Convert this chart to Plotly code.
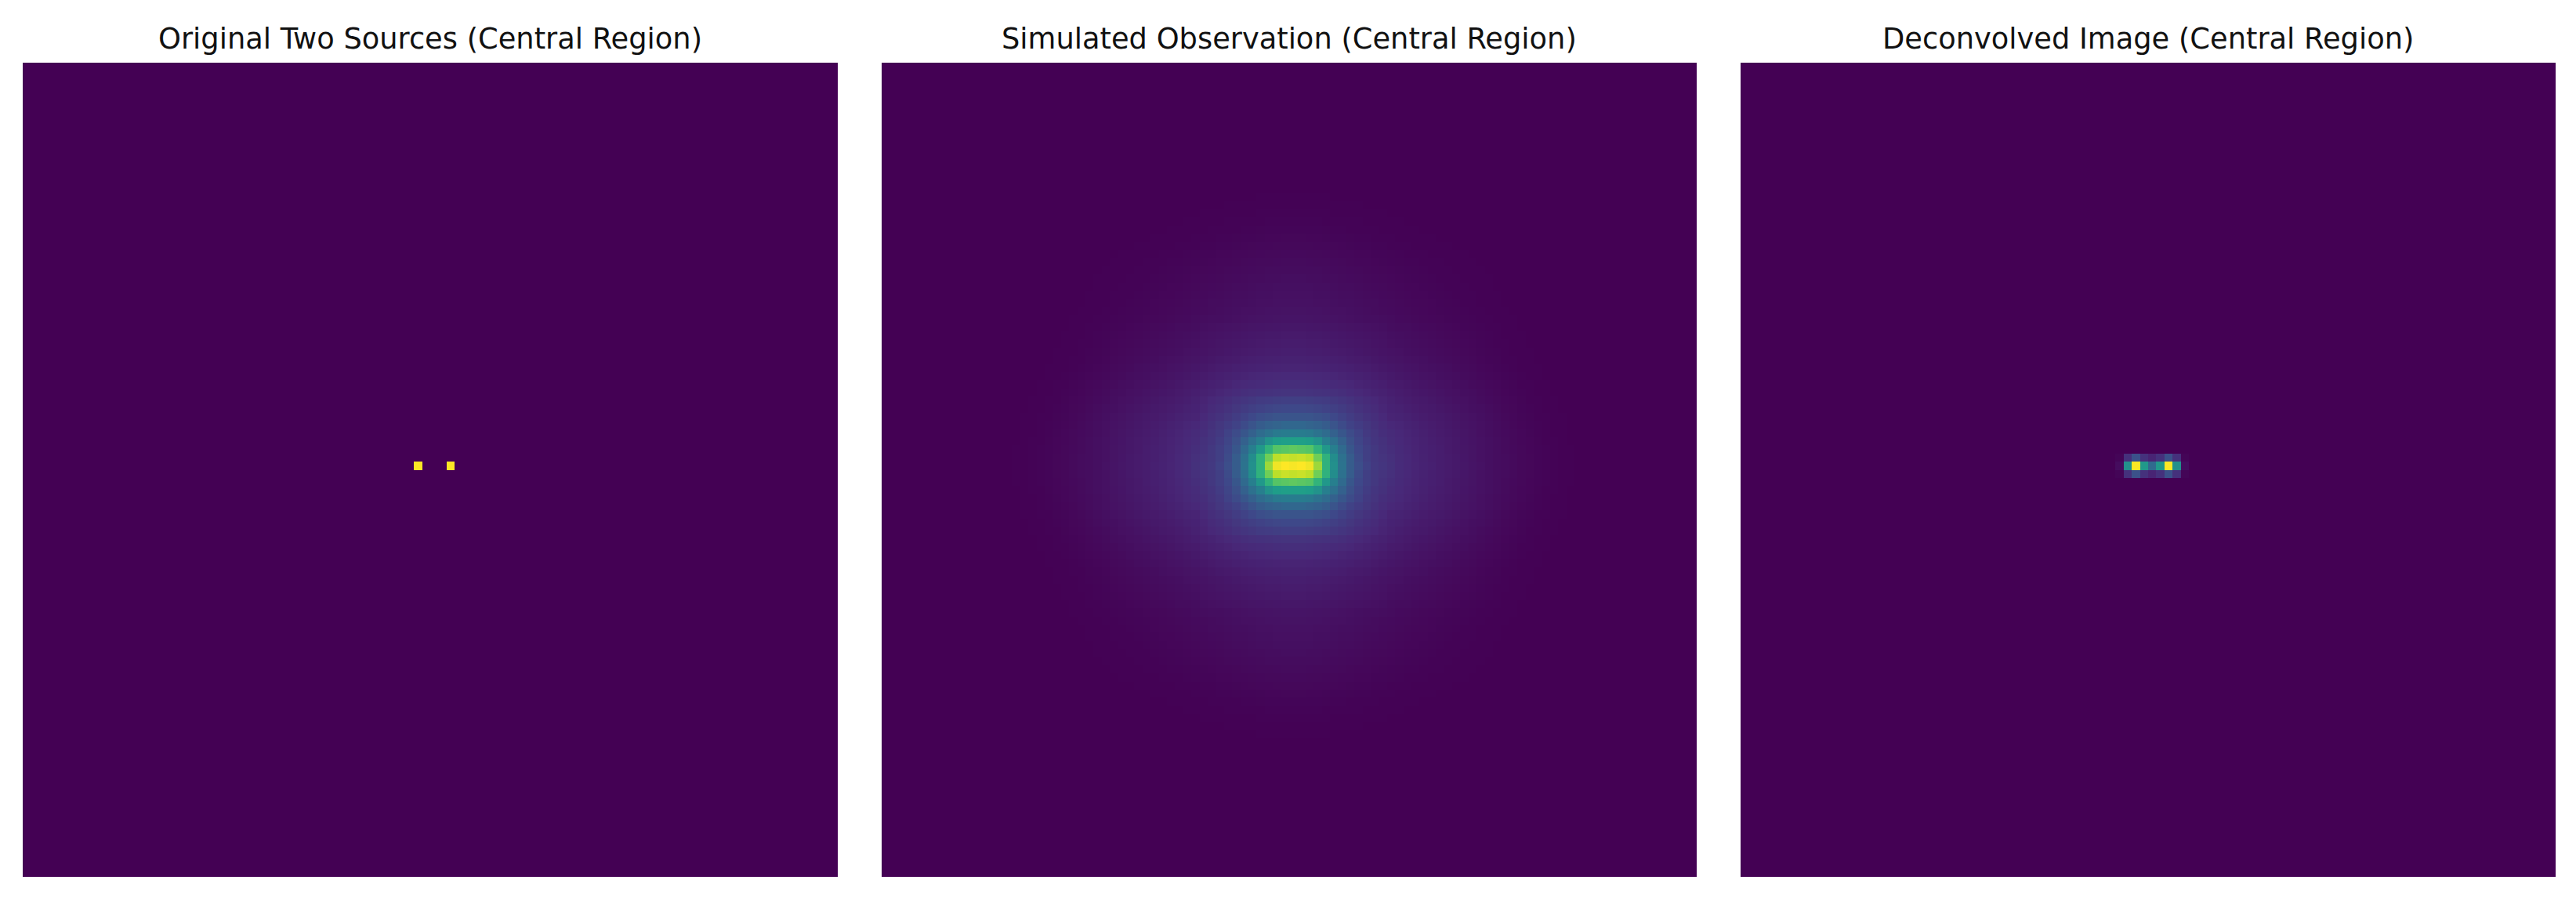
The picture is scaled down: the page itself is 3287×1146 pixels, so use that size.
import plotly.graph_objects as go

# The page body adds an 8 px margin around the figure
PAGE_MARGIN = 8
WIDTH = 3287 - PAGE_MARGIN
HEIGHT = 1146 - PAGE_MARGIN
GRID = 100

TITLES = [
    "Original Two Sources (Central Region)",
    "Simulated Observation (Central Region)",
    "Deconvolved Image (Central Region)",
]

# Original image: two single bright pixels
SOURCE_ROW = 49
SOURCE_COLS = [48, 52]

# Simulated observation, per-mille of the peak.
# One quadrant: row = distance from centre row, col = distance from centre col.
OBS_CENTER_ROW = 49
OBS_CENTER_COL = 50
OBS_QUADRANT = [
    [990, 1000, 980, 850, 640, 500, 380, 290, 240, 200, 170, 155, 140, 122, 112, 103, 95, 88, 81, 75, 69, 62, 55, 48, 41, 35, 30, 25, 20, 16, 12, 9, 6, 4, 2],
    [910, 920, 900, 780, 640, 490, 370, 290, 230, 190, 165, 150, 138, 120, 110, 101, 93, 86, 80, 74, 68, 61, 54, 47, 41, 35, 30, 25, 20, 16, 12, 9, 6, 4, 2],
    [750, 740, 730, 650, 530, 430, 340, 270, 220, 190, 165, 145, 132, 118, 108, 100, 92, 85, 79, 72, 66, 60, 53, 46, 40, 34, 29, 24, 19, 15, 11, 8, 5, 3, 2],
    [560, 560, 550, 510, 430, 370, 310, 250, 210, 180, 155, 140, 125, 115, 106, 98, 90, 83, 77, 71, 65, 58, 52, 45, 39, 33, 28, 23, 18, 14, 10, 7, 5, 3, 1],
    [420, 420, 410, 380, 350, 310, 270, 230, 200, 170, 150, 130, 120, 110, 102, 95, 87, 81, 75, 69, 63, 57, 50, 44, 38, 32, 27, 22, 17, 13, 9, 7, 4, 2, 1],
    [330, 330, 320, 310, 290, 260, 230, 200, 180, 160, 140, 125, 110, 104, 97, 90, 83, 77, 71, 65, 60, 54, 48, 42, 36, 30, 25, 20, 15, 11, 8, 6, 4, 2, 1],
    [260, 260, 260, 250, 240, 220, 200, 180, 160, 145, 130, 115, 100, 96, 90, 84, 78, 72, 67, 62, 56, 50, 45, 39, 33, 28, 23, 18, 13, 10, 7, 5, 3, 2],
    [220, 220, 215, 210, 200, 190, 175, 160, 145, 130, 120, 105, 95, 90, 84, 78, 72, 67, 62, 57, 52, 46, 41, 36, 30, 25, 20, 16, 12, 9, 6, 4, 2, 1],
    [190, 190, 185, 180, 175, 165, 155, 145, 130, 120, 110, 100, 90, 84, 78, 72, 67, 62, 57, 52, 47, 42, 37, 32, 27, 22, 18, 14, 10, 7, 5, 3, 2, 1],
    [150, 150, 148, 145, 142, 137, 130, 122, 113, 105, 97, 90, 82, 76, 71, 66, 61, 56, 51, 47, 42, 38, 33, 28, 24, 19, 15, 12, 8, 6, 4, 2, 1],
    [130, 130, 128, 126, 122, 118, 113, 107, 100, 94, 88, 82, 75, 70, 65, 60, 55, 50, 46, 42, 38, 34, 29, 25, 21, 17, 13, 10, 7, 5, 3, 2, 1],
    [115, 115, 113, 111, 108, 104, 100, 95, 90, 85, 80, 74, 68, 63, 58, 54, 49, 45, 41, 37, 33, 29, 25, 21, 18, 14, 11, 8, 6, 4, 2, 1, 1],
    [100, 100, 98, 97, 95, 92, 89, 85, 81, 76, 71, 66, 61, 56, 52, 48, 44, 40, 36, 33, 29, 25, 22, 18, 15, 12, 9, 7, 4, 3, 2, 1],
    [90, 90, 88, 87, 85, 82, 79, 75, 71, 67, 63, 58, 54, 50, 46, 42, 39, 35, 32, 28, 25, 22, 19, 15, 12, 10, 7, 5, 3, 2, 1],
    [82, 82, 80, 79, 77, 74, 71, 68, 64, 60, 57, 52, 48, 45, 41, 38, 35, 31, 28, 25, 22, 19, 16, 13, 10, 8, 6, 4, 3, 2, 1],
    [77, 77, 75, 74, 72, 69, 66, 63, 59, 56, 52, 48, 44, 41, 38, 35, 32, 28, 26, 23, 20, 17, 14, 11, 9, 7, 5, 4, 3, 1, 1],
    [71, 71, 69, 68, 66, 64, 61, 58, 55, 51, 48, 45, 41, 38, 35, 32, 29, 26, 23, 20, 18, 15, 13, 10, 8, 6, 4, 3, 2, 1],
    [63, 63, 61, 60, 58, 56, 53, 50, 48, 45, 42, 39, 35, 32, 30, 27, 24, 22, 19, 17, 14, 12, 10, 8, 6, 5, 3, 2, 1, 1],
    [55, 55, 53, 52, 50, 48, 46, 44, 41, 38, 36, 33, 30, 27, 25, 22, 20, 18, 16, 13, 11, 10, 8, 6, 5, 3, 2, 2, 1],
    [50, 50, 49, 48, 46, 44, 42, 40, 37, 35, 32, 29, 27, 24, 22, 20, 18, 15, 13, 12, 10, 8, 7, 5, 4, 3, 2, 1, 1],
    [46, 46, 45, 44, 42, 40, 38, 36, 34, 32, 30, 27, 25, 22, 20, 18, 16, 14, 12, 10, 9, 7, 6, 4, 3, 2, 1, 1],
    [43, 43, 42, 41, 39, 37, 35, 33, 31, 29, 27, 24, 22, 19, 17, 15, 14, 12, 10, 9, 7, 6, 5, 3, 2, 2, 1, 1],
    [40, 40, 39, 38, 36, 34, 32, 30, 28, 26, 24, 22, 20, 18, 15, 14, 12, 10, 9, 7, 6, 5, 4, 3, 2, 1, 1],
    [36, 36, 35, 34, 32, 31, 29, 27, 25, 23, 21, 19, 17, 15, 13, 12, 10, 9, 7, 6, 5, 4, 3, 2, 2, 1, 1],
    [32, 32, 31, 30, 29, 27, 26, 24, 22, 20, 18, 16, 15, 13, 11, 10, 8, 7, 6, 5, 4, 3, 2, 2, 1, 1],
    [28, 28, 27, 26, 25, 24, 22, 20, 18, 17, 15, 13, 12, 10, 9, 8, 7, 6, 5, 4, 3, 3, 2, 1, 1, 1],
    [24, 24, 23, 22, 21, 20, 18, 17, 15, 14, 12, 11, 10, 8, 7, 6, 5, 4, 3, 3, 2, 2, 1, 1, 1],
    [20, 20, 19, 18, 17, 16, 15, 13, 12, 11, 9, 8, 7, 6, 5, 4, 3, 3, 2, 2, 1, 1, 1],
    [16, 16, 15, 14, 13, 12, 11, 10, 9, 8, 7, 6, 5, 4, 3, 3, 2, 2, 1, 1, 1],
    [12, 12, 12, 11, 10, 9, 8, 7, 6, 5, 5, 4, 3, 3, 2, 2, 1, 1, 1],
    [9, 9, 9, 8, 7, 7, 6, 5, 5, 4, 3, 3, 2, 2, 1, 1, 1],
    [6, 6, 6, 5, 5, 4, 4, 3, 3, 3, 2, 2, 1, 1, 1],
    [4, 4, 4, 3, 3, 3, 2, 2, 2, 1, 1, 1],
    [2, 2, 2, 2, 2, 1, 1, 1, 1],
    [1, 1, 1, 1, 1],
]

# Deconvolved image, fraction of the peak, around the two recovered sources
DECON_FIRST_ROW = 48
DECON_FIRST_COL = 46
DECON_PATCH = [
    [0.01, 0.14, 0.25, 0.14, 0.10, 0.14, 0.25, 0.14, 0.01],
    [0.03, 0.50, 1.00, 0.53, 0.34, 0.53, 1.00, 0.50, 0.03],
    [0.01, 0.14, 0.25, 0.14, 0.10, 0.14, 0.25, 0.14, 0.01],
]

# Panel positions in figure pixels
PANEL_LEFT = [21, 1117, 2213]
PANEL_SIZE = 1040
PANEL_TOP = 72
PANEL_BOTTOM = 1111
TITLE_BOTTOM = 64


def empty_grid():
    return [[0.0] * GRID for _ in range(GRID)]


def original_image():
    z = empty_grid()
    for col in SOURCE_COLS:
        z[SOURCE_ROW][col] = 1.0
    return z


def observed_image():
    z = empty_grid()
    for dy, row in enumerate(OBS_QUADRANT):
        for dx, val in enumerate(row):
            for r in {OBS_CENTER_ROW - dy, OBS_CENTER_ROW + dy}:
                for c in {OBS_CENTER_COL - dx, OBS_CENTER_COL + dx}:
                    z[r][c] = val / 1000
    return z


def deconvolved_image():
    z = empty_grid()
    for i, row in enumerate(DECON_PATCH):
        for j, val in enumerate(row):
            z[DECON_FIRST_ROW + i][DECON_FIRST_COL + j] = val
    return z


images = [original_image(), observed_image(), deconvolved_image()]

fig = go.Figure()
layout_axes = {}
annotations = []
for i, (title, z) in enumerate(zip(TITLES, images)):
    suffix = "" if i == 0 else str(i + 1)
    fig.add_trace(go.Heatmap(
        z=z,
        colorscale="Viridis",
        zmin=0,
        zmax=1,
        showscale=False,
        xaxis="x" + suffix,
        yaxis="y" + suffix,
        hovertemplate="x: %{x}<br>y: %{y}<br>%{z:.3f}<extra></extra>"
    ))
    left = PANEL_LEFT[i]
    layout_axes["xaxis" + suffix] = dict(
        domain=[left / WIDTH, (left + PANEL_SIZE) / WIDTH],
        range=[-0.5, GRID - 0.5],
        visible=False,
        anchor="y" + suffix
    )
    layout_axes["yaxis" + suffix] = dict(
        domain=[1 - PANEL_BOTTOM / HEIGHT, 1 - PANEL_TOP / HEIGHT],
        range=[GRID - 0.5, -0.5],
        visible=False,
        anchor="x" + suffix
    )
    annotations.append(dict(
        text=title,
        x=(left + PANEL_SIZE / 2) / WIDTH,
        y=1 - TITLE_BOTTOM / HEIGHT,
        xref="paper",
        yref="paper",
        xanchor="center",
        yanchor="bottom",
        showarrow=False,
        borderpad=0,
        font=dict(family="DejaVu Sans", size=36.8, color="#111111")
    ))

fig.update_layout(
    width=WIDTH,
    height=HEIGHT,
    margin=dict(l=0, r=0, t=0, b=0),
    paper_bgcolor="white",
    plot_bgcolor="white",
    annotations=annotations,
    **layout_axes
)

fig.write_html("out.html")
